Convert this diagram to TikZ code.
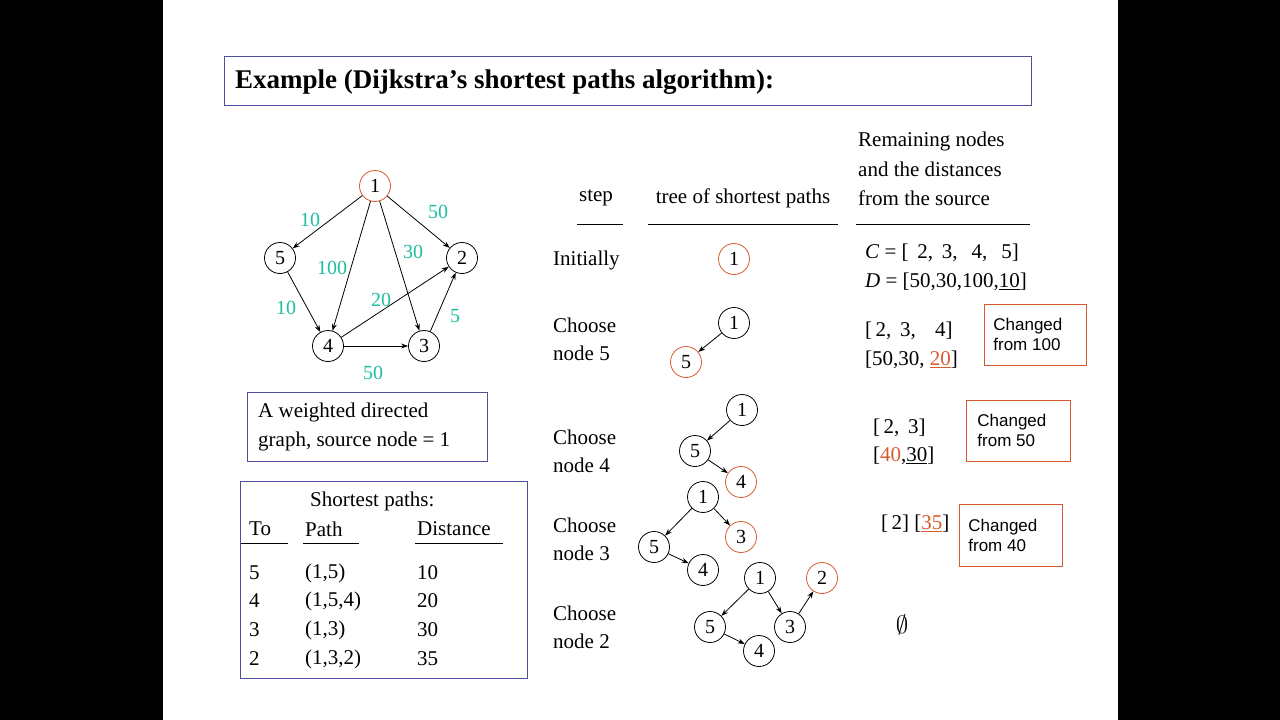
\documentclass[tikz,border=0pt]{standalone}
\usepackage{fontspec}
\setmainfont{Liberation Serif}
\setsansfont{Liberation Sans}
\usetikzlibrary{arrows.meta}
\definecolor{teal1}{RGB}{30,190,160}
\definecolor{org}{RGB}{215,90,45}
\definecolor{boxb}{RGB}{80,80,160}
\begin{document}
\begin{tikzpicture}[x=1pt,y=-1pt,
  vx/.style={circle,draw,thick,minimum size=31pt,inner sep=0pt,font=\fontsize{20}{20}\selectfont},
  vo/.style={vx,draw=org},
  ed/.style={-{Stealth[length=7pt,width=5pt]},thick},
  wl/.style={text=teal1,font=\fontsize{20}{20}\selectfont},
  tx/.style={anchor=west,inner sep=0pt,font=\fontsize{21}{21}\selectfont},
  tc/.style={inner sep=0pt,font=\fontsize{21}{21}\selectfont},
  chg/.style={draw=org,thick,align=left,inner sep=0pt,font=\sffamily\fontsize{17}{20}\selectfont}]
\useasboundingbox (0,0) rectangle (1280,720);
\fill[black] (0,0) rectangle (163,720);
\fill[black] (1118,0) rectangle (1280,720);
% title
\node[draw=boxb,thick,minimum width=807pt,minimum height=49pt,anchor=north west,inner sep=0pt] (title) at (224,56) {};
\node[tx,font=\bfseries\fontsize{27}{27}\selectfont] (tt) at (235,82) {Example (Dijkstra’s shortest paths algorithm):};
% graph
\node[vo] (g1) at (375,186) {1};
\node[vx] (g5) at (280,258) {5};
\node[vx] (g2) at (462,258) {2};
\node[vx] (g4) at (328,346) {4};
\node[vx] (g3) at (424,346) {3};
\draw[ed] (g1) -- (g5); \draw[ed] (g1) -- (g2); \draw[ed] (g1) -- (g4); \draw[ed] (g1) -- (g3);
\draw[ed] (g5) -- (g4); \draw[ed] (g4) -- (g2); \draw[ed] (g4) -- (g3); \draw[ed] (g3) -- (g2);
\node[wl] (w1) at (310,220) {10}; \node[wl] (w2) at (438,212) {50};
\node[wl] (w3) at (332,268) {100}; \node[wl] (w4) at (413,252) {30};
\node[wl] (w5) at (381,300) {20}; \node[wl] (w6) at (286,308) {10};
\node[wl] (w7) at (455,316) {5}; \node[wl] (w8) at (373,373) {50};
% caption box
\draw[boxb,thick] (247,392) rectangle (487,461);
\node[tx] (c1) at (258,412) {A weighted directed};
\node[tx] (c2) at (258,441) {graph, source node = 1};
% table
\draw[boxb,thick] (240,481) rectangle (527,678);
\node[tx] (sp) at (310,501) {Shortest paths:};
\node[tx] (h1) at (249,529) {To}; \node[tx] (h2) at (305,529) {Path}; \node[tx] (h3) at (417,529) {Distance};
\draw (241,543) -- (288,543); \draw (303,543) -- (359,543); \draw (415,543) -- (503,543);
\node[tx] at (249,573) {5}; \node[tx] at (305,573) {(1,5)}; \node[tx] at (417,573) {10};
\node[tx] at (249,601) {4}; \node[tx] at (305,601) {(1,5,4)}; \node[tx] at (417,601) {20};
\node[tx] at (249,630) {3}; \node[tx] at (305,630) {(1,3)}; \node[tx] at (417,630) {30};
\node[tx] at (249,659) {2}; \node[tx] at (305,659) {(1,3,2)}; \node[tx] at (417,659) {35};
% headers
\node[tc] (hs) at (596,198) {step};
\node[tc] (ht) at (743,198) {tree of shortest paths};
\node[tx] (r1) at (858,141) {Remaining nodes};
\node[tx] (r2) at (858,169) {and the distances};
\node[tx] (r3) at (858,198) {from the source};
\draw (577,224) -- (623,224); \draw (648,224) -- (838,224); \draw (856,224) -- (1030,224);
% step labels
\node[tx] at (553,260) {Initially};
\node[tx] at (553,325) {Choose}; \node[tx] at (553,353) {node 5};
\node[tx] at (553,437) {Choose}; \node[tx] at (553,465) {node 4};
\node[tx] at (553,525) {Choose}; \node[tx] at (553,553) {node 3};
\node[tx] at (553,613) {Choose}; \node[tx] at (553,641) {node 2};
% trees
\node[vo] (a1) at (734,259) {1};
\node[vx] (b1) at (734,323) {1}; \node[vo] (b5) at (686,362) {5}; \draw[ed] (b1) -- (b5);
\node[vx] (c1n) at (742,410) {1}; \node[vx] (c5) at (695,451) {5}; \node[vo] (c4) at (741,482) {4};
\draw[ed] (c1n) -- (c5); \draw[ed] (c5) -- (c4);
\node[vx] (d1) at (703,497) {1}; \node[vx] (d5) at (654,547) {5}; \node[vo] (d3) at (741,537) {3}; \node[vx] (d4) at (703,570) {4};
\draw[ed] (d1) -- (d5); \draw[ed] (d1) -- (d3); \draw[ed] (d5) -- (d4);
\node[vx] (e1) at (760,578) {1}; \node[vx] (e5) at (710,627) {5}; \node[vx] (e3) at (790,627) {3}; \node[vx] (e4) at (759,651) {4}; \node[vo] (e2) at (822,578) {2};
\draw[ed] (e1) -- (e5); \draw[ed] (e1) -- (e3); \draw[ed] (e5) -- (e4); \draw[ed] (e3) -- (e2);
% distances
\node[tx] at (865,253) {\textit{C} = [\ \,2,\ \,3,\ \ \,4,\ \ \,5]};
\node[tx] at (865,282) {\textit{D} = [50,30,100,\underline{10}]};
\node[tx] at (865,331) {[\,2,\ \,3,\ \ \ \,4]};
\node[tx] at (865,360) {[50,30, \textcolor{org}{\underline{20}}]};
\node[chg,minimum width=102pt,minimum height=61pt,anchor=north west] (k1) at (984,304) {};
\node[chg,draw=none,anchor=west] at (993,334) {Changed\\from 100};
\node[tx] at (873,428) {[\,2,\ \,3]};
\node[tx] at (873,456) {[\textcolor{org}{40},\underline{30}]};
\node[chg,minimum width=104pt,minimum height=61pt,anchor=north west] (k2) at (966,400) {};
\node[chg,draw=none,anchor=west] at (977,430) {Changed\\from 50};
\node[tx] at (881,524) {[\,2] [\textcolor{org}{\underline{35}}]};
\node[chg,minimum width=103pt,minimum height=62pt,anchor=north west] (k3) at (959,504) {};
\node[chg,draw=none,anchor=west] at (968,535) {Changed\\from 40};
\node[tc,font=\fontsize{24}{24}\selectfont] (em) at (902,625) {$\emptyset$};
\end{tikzpicture}
\end{document}
